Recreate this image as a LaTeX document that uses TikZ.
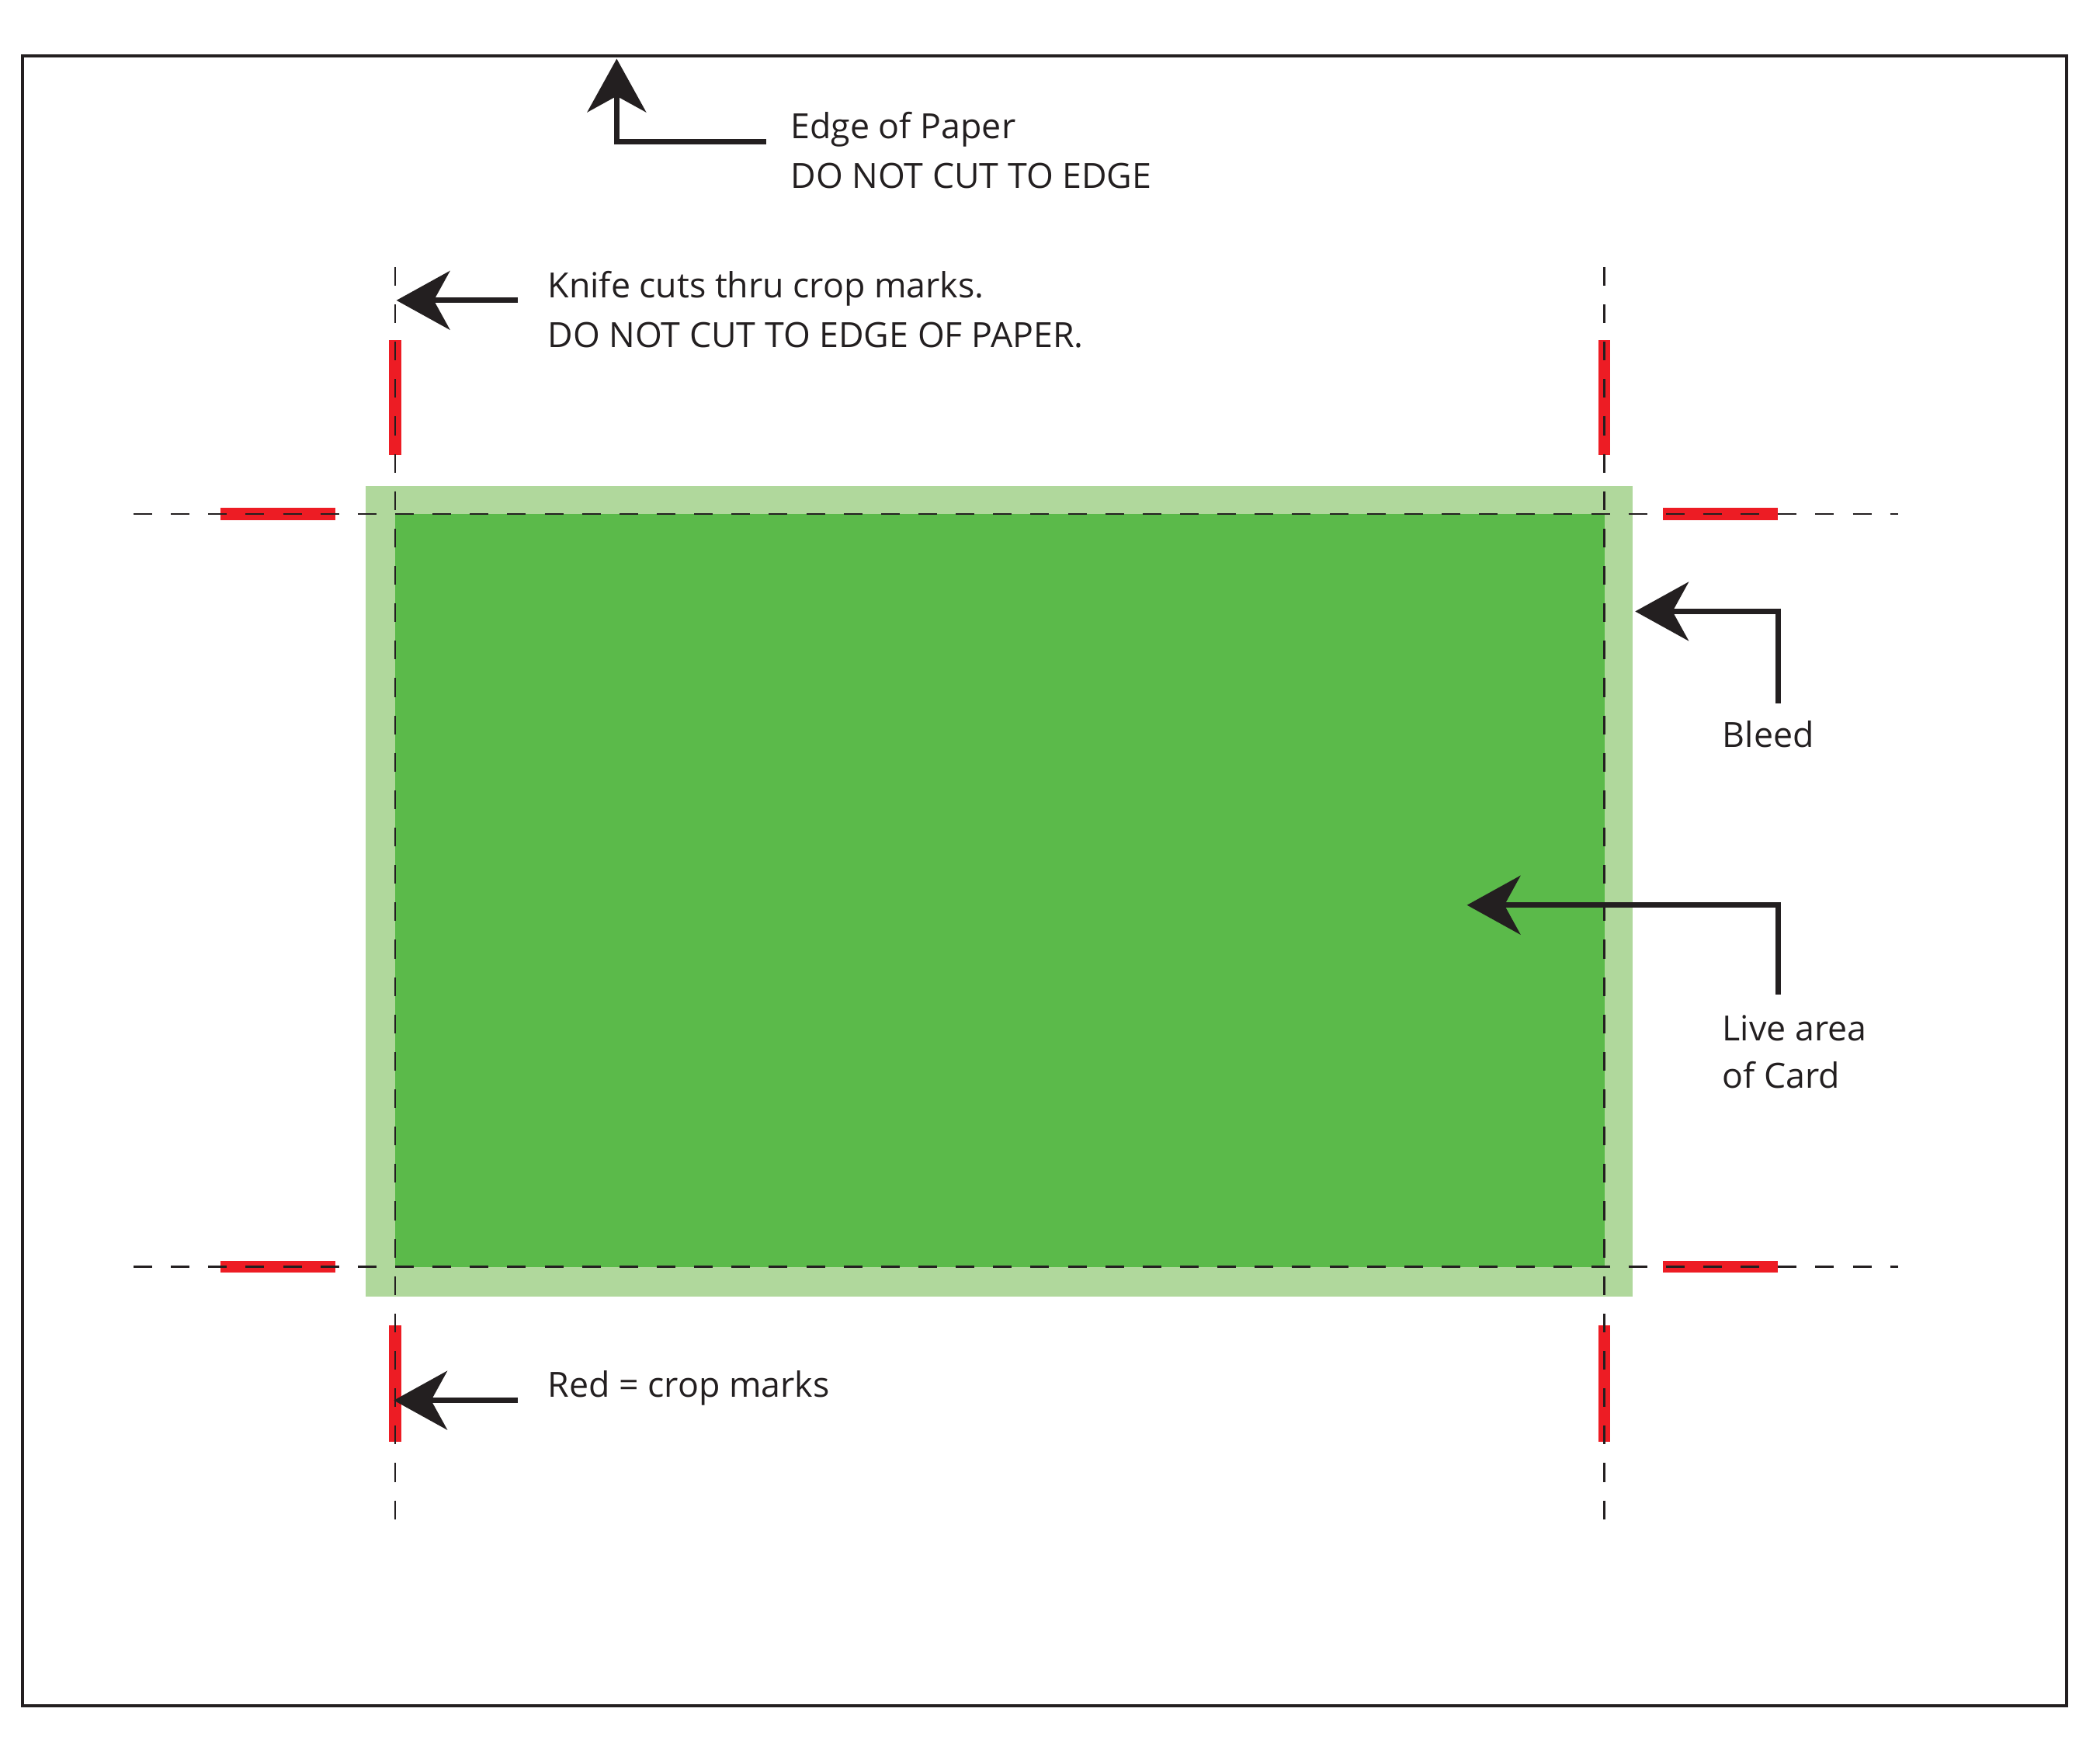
\documentclass[tikz,border=0pt]{standalone}
\usepackage{fontspec}
\setmainfont{Open Sans}
\usetikzlibrary{arrows.meta}
\definecolor{bleedg}{HTML}{B0D89C}
\definecolor{liveg}{HTML}{5BBA4A}
\definecolor{cropred}{HTML}{ED1C24}
\definecolor{ink}{HTML}{231F20}
\tikzset{
 guide/.style={ink, line width=0.8pt, dash pattern=on 7pt off 7pt},
 crop/.style={cropred, line width=4.5pt},
 callout/.style={ink, line width=2pt, -{Stealth[length=20pt,width=22pt,inset=6pt]}},
 lbl/.style={anchor=west, inner sep=0pt, font=\fontsize{13}{16}\selectfont, text=ink}
}
\begin{document}
\begin{tikzpicture}[x=0.5pt,y=-0.5pt]
\useasboundingbox (0,0) rectangle (1568,1321);
\draw[ink, line width=1.2pt] (17,42) rectangle (1548,1278);
\fill[bleedg] (274,364) rectangle (1223,971);
\fill[liveg] (296,385) rectangle (1202,949);
% crop marks
\foreach \x in {296,1202}{
  \draw[crop] (\x,255) -- (\x,341);
  \draw[crop] (\x,993) -- (\x,1080);}
\foreach \y in {385,949}{
  \draw[crop] (165,\y) -- (251,\y);
  \draw[crop] (1246,\y) -- (1332,\y);}
% guides
\draw[guide] (100,385) -- (1422,385);
\draw[guide] (100,949) -- (1422,949);
\draw[guide] (296,200) -- (296,1152);
\draw[guide] (1202,200) -- (1202,1152);
% callouts
\coordinate (e1) at (574,106); \coordinate (e2) at (462,44);
\draw[callout] (e1) -- (462,106) -- (e2);
\node[lbl] (t1) at (592,97) {Edge of Paper};
\node[lbl] (t2) at (592,132) {DO NOT CUT TO EDGE};
\coordinate (k1) at (388,225); \coordinate (k2) at (297,225);
\draw[callout] (k1) -- (k2);
\node[lbl] (t3) at (410,216) {Knife cuts thru crop marks.};
\node[lbl] (t4) at (410,251) {DO NOT CUT TO EDGE OF PAPER.};
\coordinate (b1) at (1332,527); \coordinate (b2) at (1225,458);
\draw[callout] (b1) -- (1332,458) -- (b2);
\node[lbl] (t5) at (1290,550) {Bleed};
\coordinate (l1) at (1332,745); \coordinate (l2) at (1099,678);
\draw[callout] (l1) -- (1332,678) -- (l2);
\node[lbl] (t6) at (1290,770) {Live area};
\node[lbl] (t7) at (1290,805) {of Card};
\coordinate (r1) at (388,1049); \coordinate (r2) at (295,1049);
\draw[callout] (r1) -- (r2);
\node[lbl] (t8) at (410,1040) {Red = crop marks};
\end{tikzpicture}
\end{document}
